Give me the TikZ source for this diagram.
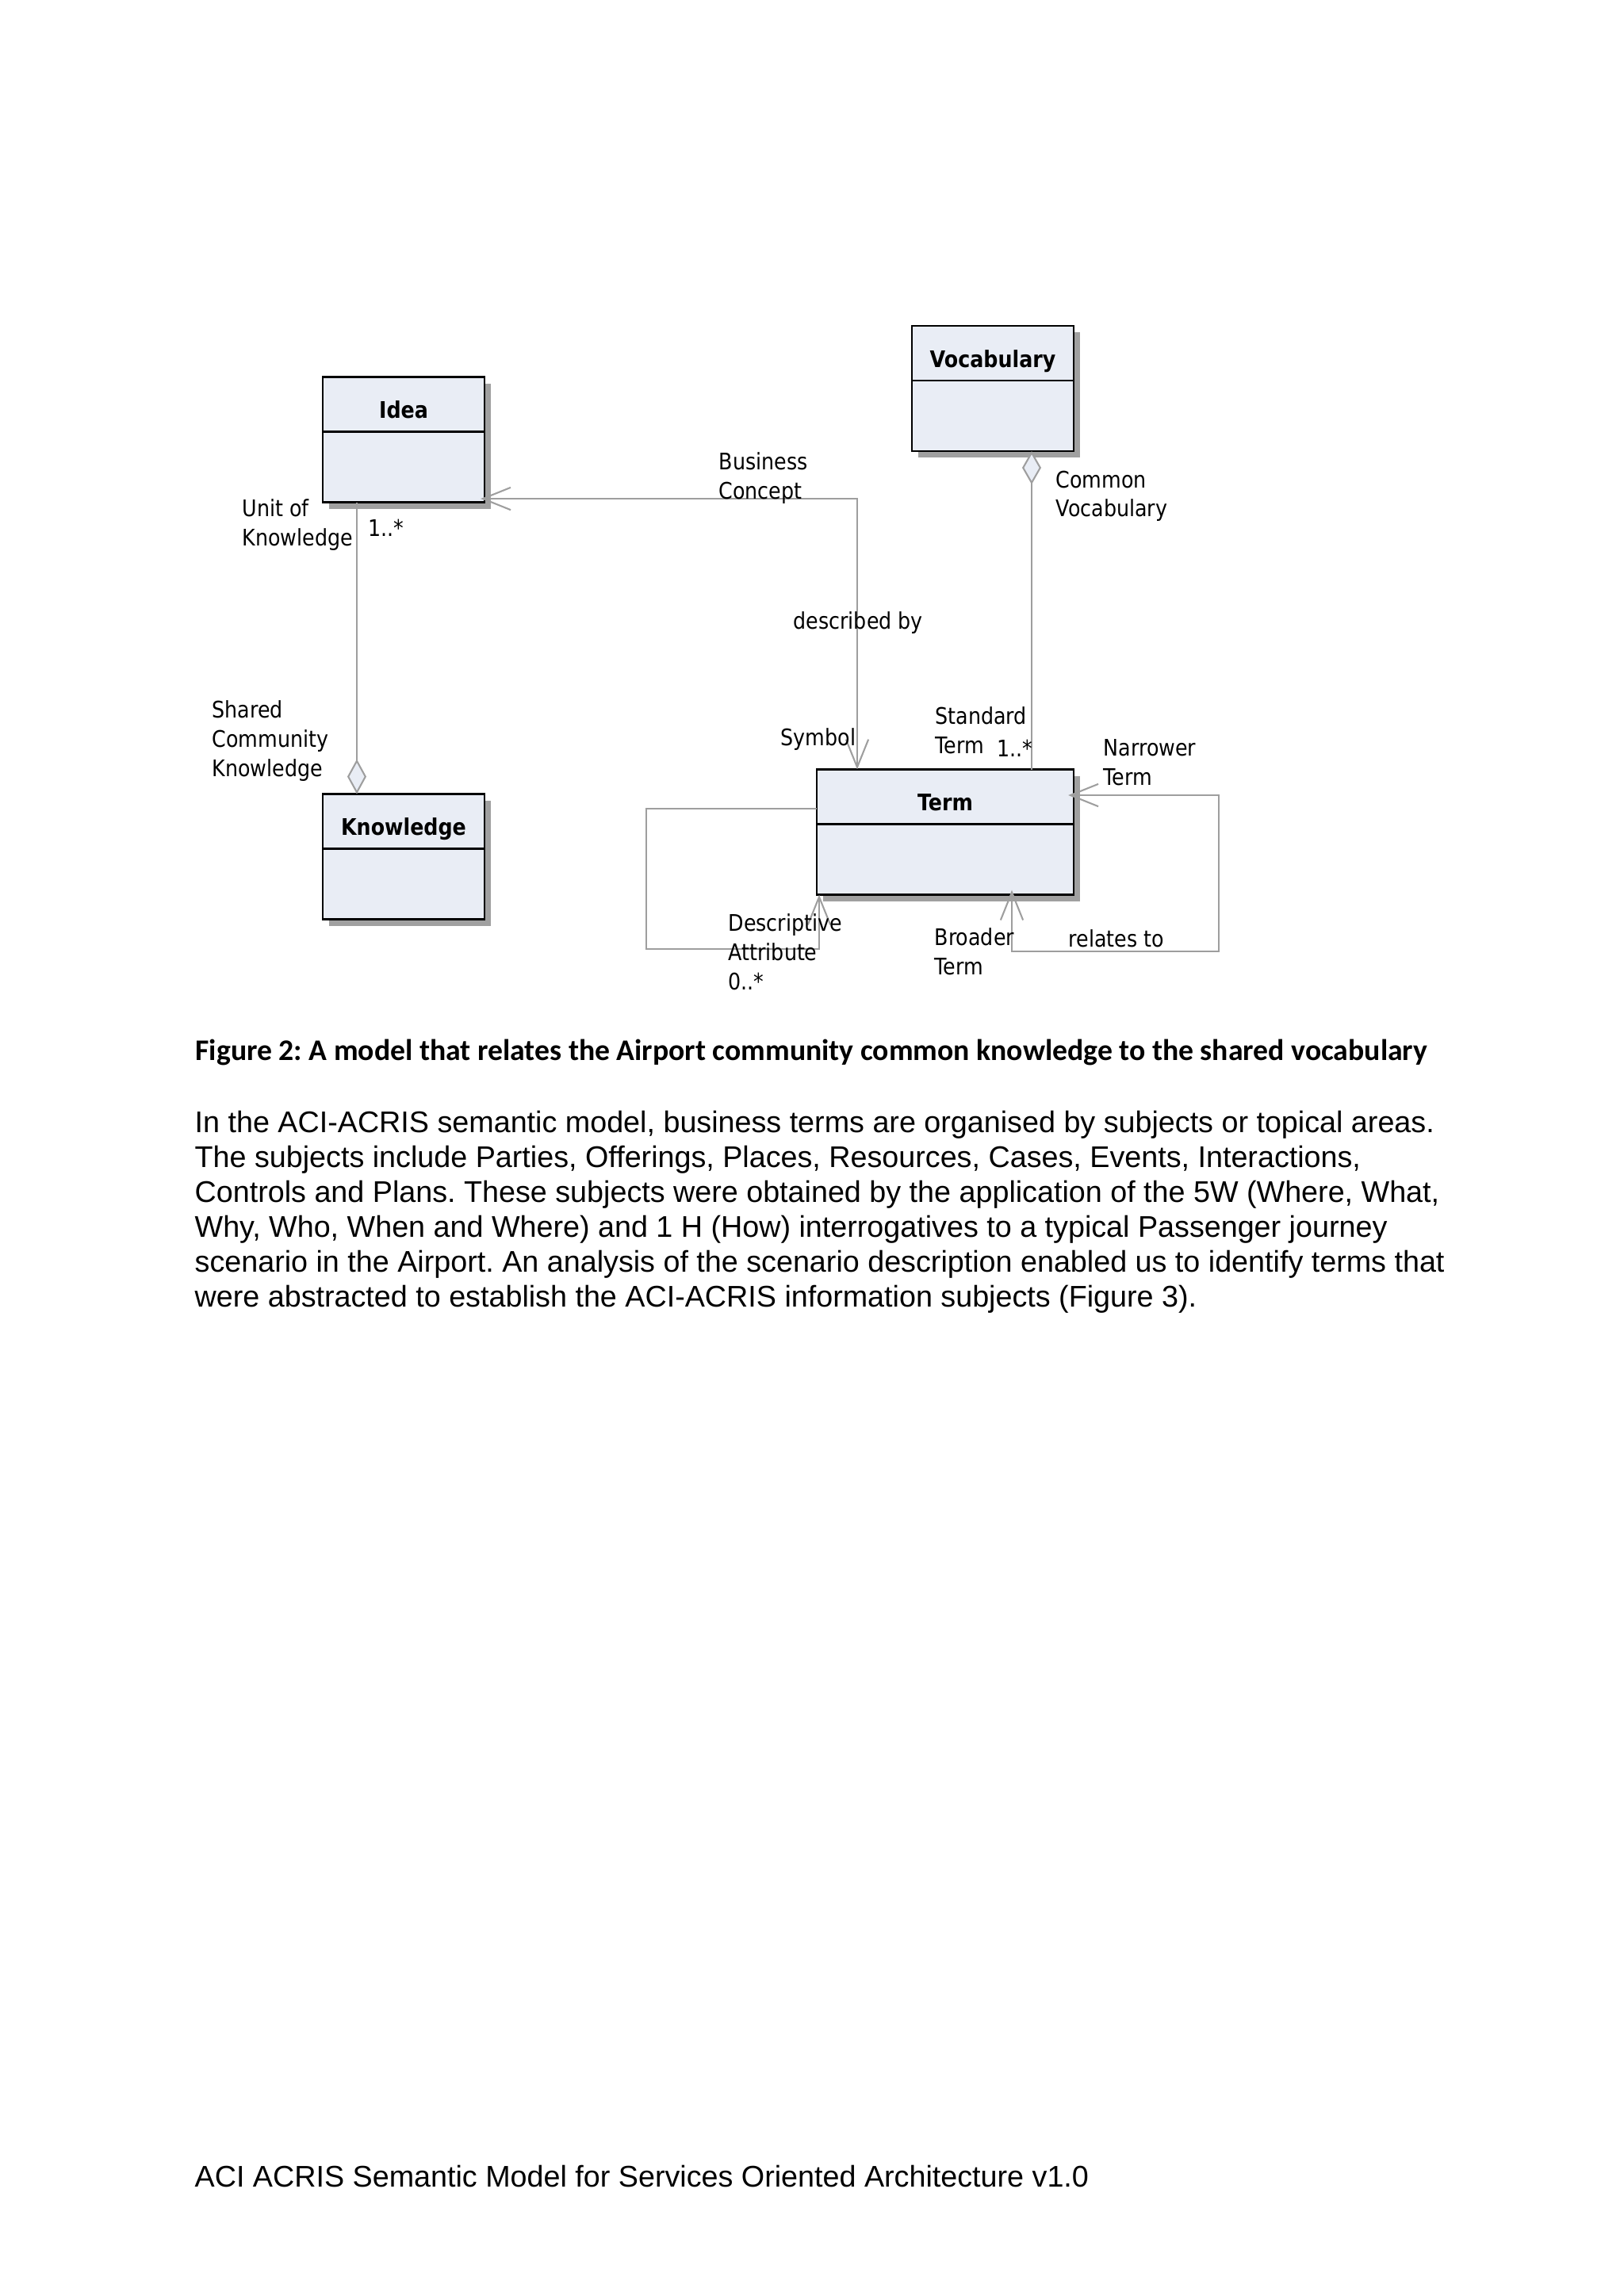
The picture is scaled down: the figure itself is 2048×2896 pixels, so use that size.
\documentclass[tikz,border=0pt]{standalone}
\usepackage{fontspec}
\setmainfont{Liberation Sans}
\newfontfamily\umlfont{DejaVu Sans}[FakeStretch=0.88]
\newfontfamily\legendefont{Carlito}
\usetikzlibrary{positioning,arrows.meta,shadows}
\definecolor{fondclasse}{RGB}{233,237,245}
\definecolor{gristrait}{RGB}{158,158,158}
\definecolor{grisombre}{RGB}{160,160,160}
\newlength{\unitpx}
\setlength{\unitpx}{0.10254mm}
\frenchspacing

\begin{document}
\begin{tikzpicture}[x=0.10254mm,y=-0.10254mm]
    \tikzstyle{ombre}=[drop shadow={shadow xshift=8\unitpx,shadow yshift=-8\unitpx,fill=grisombre,opacity=1}]
    \tikzstyle{classeTete}=[rectangle,draw,line width=0.8pt,fill=fondclasse,ombre,outer sep=0pt,inner sep=0pt,minimum height=69\unitpx,text height=35\unitpx,text depth=0pt,font=\umlfont\bfseries\fontsize{8.4}{10.75}\selectfont]
    \tikzstyle{classeCorps}=[rectangle,draw,line width=0.8pt,fill=fondclasse,ombre,outer sep=0pt,inner sep=0pt,minimum height=89\unitpx]
    \tikzstyle{lien}=[draw=gristrait,line width=0.6pt,>={Straight Barb[length=3.6mm,width=2.9mm]}]
    \tikzstyle{etiquette}=[anchor=north west,inner sep=0pt,align=left,font=\umlfont\fontsize{8.4}{10.75}\selectfont]
    \tikzstyle{ligne}=[anchor=base west,inner sep=0pt,font=\fontsize{11}{12.65}\selectfont]
    \fill[white] (0,0) rectangle (2048,2896);
    \useasboundingbox (0,0) rectangle (2048,2896);
    % classes
    \node[classeTete,minimum width=204\unitpx] (1) at (509,510) {Idea};
    \node[classeCorps,minimum width=204\unitpx,below=0pt of 1] (2) {};
    \node[classeTete,minimum width=204\unitpx] (3) at (1252,445.5) {Vocabulary};
    \node[classeCorps,minimum width=204\unitpx,below=0pt of 3] (4) {};
    \node[classeTete,minimum width=204\unitpx] (5) at (509,1036) {Knowledge};
    \node[classeCorps,minimum width=204\unitpx,below=0pt of 5] (6) {};
    \node[classeTete,minimum width=324\unitpx] (7) at (1192,1005) {Term};
    \node[classeCorps,minimum width=324\unitpx,below=0pt of 7] (8) {};
    % associations
    \coordinate (c1) at (815,1197);
    \coordinate (c2) at (1537,1200);
    \draw[lien,<->,shorten <=-0.5mm] (2.east |- 0,629) -| (7.north -| 1081,0);
    \draw[lien,{Diamond[length=4.3mm,width=2.46mm,fill=fondclasse]}-] (4.south -| 1301,0) -- (7.north -| 1301,0);
    \draw[lien,-{Diamond[length=4.5mm,width=2.46mm,fill=fondclasse]}] (2.south -| 450,0) -- (5.north -| 450,0);
    \draw[lien,->] (7.west |- 0,1020) -| (c1) -| (8.south -| 1033,0);
    \draw[lien,<->,shorten <=-0.7mm,shorten >=-0.6mm] (7.east |- 0,1003) -| (c2) -| (8.south -| 1276,0);
    % roles
    \node[etiquette] (9) at (906,570) {Business\\Concept};
    \node[etiquette] (10) at (305,629) {Unit of\\Knowledge};
    \node[etiquette] (11) at (464,654) {1..*};
    \node[etiquette] (12) at (1331,593) {Common\\Vocabulary};
    \node[etiquette] (13) at (1000,771) {described by};
    \node[etiquette] (14) at (267,883) {Shared\\Community\\Knowledge};
    \node[etiquette] (15) at (984,918) {Symbol};
    \node[etiquette] (16) at (1179,891) {Standard\\Term};
    \node[etiquette] (17) at (1257,932) {1..*};
    \node[etiquette] (18) at (1391,932) {Narrower\\Term};
    \node[etiquette] (19) at (918,1152) {Descriptive\\Attribute\\0..*};
    \node[etiquette] (20) at (1178,1170) {Broader\\Term};
    \node[etiquette] (21) at (1347,1172) {relates to};
    % texte
    \node[anchor=base west,inner sep=0pt,font=\legendefont\bfseries\fontsize{11}{13}\selectfont] (22) at (246,1337) {Figure 2: A model that relates the Airport community common knowledge to the shared vocabulary};
    \node[ligne] (23) at (245,1428) {In the ACI-ACRIS semantic model, business terms are organised by subjects or topical areas.};
    \node[ligne] (24) at (245,1472) {The subjects include Parties, Offerings, Places, Resources, Cases, Events, Interactions,};
    \node[ligne] (25) at (245,1516) {Controls and Plans. These subjects were obtained by the application of the 5W (Where, What,};
    \node[ligne] (26) at (245,1560) {Why, Who, When and Where) and 1 H (How) interrogatives to a typical Passenger journey};
    \node[ligne] (27) at (245,1604) {scenario in the Airport. An analysis of the scenario description enabled us to identify terms that};
    \node[ligne] (28) at (245,1648) {were abstracted to establish the ACI-ACRIS information subjects (Figure 3).};
    \node[ligne] (29) at (245,2758) {ACI ACRIS Semantic Model for Services Oriented Architecture v1.0};
\end{tikzpicture}
\end{document}
